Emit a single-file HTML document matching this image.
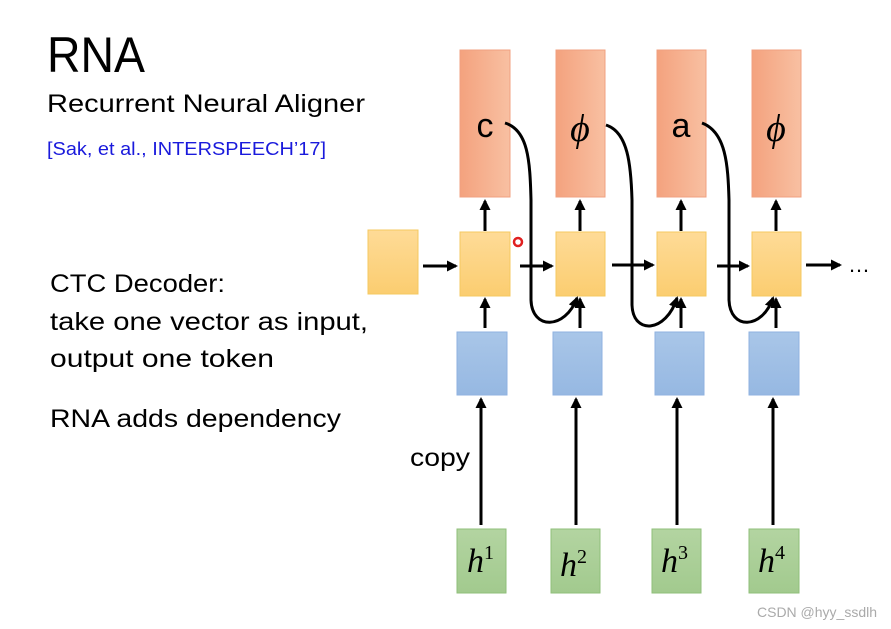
<!DOCTYPE html>
<html><head><meta charset="utf-8"><style>html,body{margin:0;padding:0;background:#fff}svg{display:block}</style></head>
<body>
<svg width="891" height="629" viewBox="0 0 891 629" xmlns="http://www.w3.org/2000/svg" font-family="Liberation Sans, sans-serif">
<defs>
<linearGradient id="or" x1="0" x2="1" y1="0" y2="0"><stop offset="0" stop-color="#f4a27e"/><stop offset="1" stop-color="#f8c0a2"/></linearGradient>
<linearGradient id="ye" x1="0" x2="0" y1="0" y2="1"><stop offset="0" stop-color="#fedb97"/><stop offset="1" stop-color="#fbcd70"/></linearGradient>
<linearGradient id="bl" x1="0" x2="0" y1="0" y2="1"><stop offset="0" stop-color="#a9c6e8"/><stop offset="1" stop-color="#96b8e2"/></linearGradient>
<linearGradient id="gr" x1="0" x2="0" y1="0" y2="1"><stop offset="0" stop-color="#b3d4a1"/><stop offset="1" stop-color="#a2ca8e"/></linearGradient>
<marker id="ah" markerWidth="11" markerHeight="11" refX="9" refY="5.5" orient="auto" markerUnits="userSpaceOnUse"><path d="M0,0 L11,5.5 L0,11 z" fill="#000"/></marker>
</defs>
<text x="47" y="72" font-size="50" textLength="98" lengthAdjust="spacingAndGlyphs">RNA</text>
<text x="47" y="112" font-size="25" textLength="318" lengthAdjust="spacingAndGlyphs">Recurrent Neural Aligner</text>
<text x="47" y="155" font-size="18" fill="#1a1adc" textLength="279" lengthAdjust="spacingAndGlyphs">[Sak, et al., INTERSPEECH’17]</text>
<text x="50" y="292" font-size="25" textLength="175" lengthAdjust="spacingAndGlyphs">CTC Decoder:</text>
<text x="50" y="330" font-size="25" textLength="318" lengthAdjust="spacingAndGlyphs">take one vector as input,</text>
<text x="50" y="367" font-size="25" textLength="224" lengthAdjust="spacingAndGlyphs">output one token</text>
<text x="50" y="427" font-size="25" textLength="291" lengthAdjust="spacingAndGlyphs">RNA adds dependency</text>
<text x="410" y="466" font-size="25" textLength="60" lengthAdjust="spacingAndGlyphs">copy</text>
<g stroke-width="1">
<rect x="460" y="50" width="50" height="147" fill="url(#or)" stroke="#f0a080"/>
<rect x="556" y="50" width="49" height="147" fill="url(#or)" stroke="#f0a080"/>
<rect x="657" y="50" width="49" height="147" fill="url(#or)" stroke="#f0a080"/>
<rect x="752" y="50" width="49" height="147" fill="url(#or)" stroke="#f0a080"/>
<rect x="368" y="230" width="50" height="64" fill="url(#ye)" stroke="#f5c860"/>
<rect x="460" y="232" width="50" height="64" fill="url(#ye)" stroke="#f5c860"/>
<rect x="556" y="232" width="49" height="64" fill="url(#ye)" stroke="#f5c860"/>
<rect x="657" y="232" width="49" height="64" fill="url(#ye)" stroke="#f5c860"/>
<rect x="752" y="232" width="49" height="64" fill="url(#ye)" stroke="#f5c860"/>
<rect x="457" y="332" width="50" height="63" fill="url(#bl)" stroke="#8fb2e0"/>
<rect x="553" y="332" width="49" height="63" fill="url(#bl)" stroke="#8fb2e0"/>
<rect x="655" y="332" width="49" height="63" fill="url(#bl)" stroke="#8fb2e0"/>
<rect x="749" y="332" width="50" height="63" fill="url(#bl)" stroke="#8fb2e0"/>
<rect x="457" y="529" width="49" height="64" fill="url(#gr)" stroke="#8fbf7a"/>
<rect x="551" y="529" width="49" height="64" fill="url(#gr)" stroke="#8fbf7a"/>
<rect x="652" y="529" width="49" height="64" fill="url(#gr)" stroke="#8fbf7a"/>
<rect x="749" y="529" width="50" height="64" fill="url(#gr)" stroke="#8fbf7a"/>
</g>
<g font-size="34" text-anchor="middle">
<text x="485" y="137">c</text>
<text x="580" y="141" font-family="Liberation Serif, serif" font-style="italic" font-size="38">ϕ</text>
<text x="681" y="137">a</text>
<text x="776" y="141" font-family="Liberation Serif, serif" font-style="italic" font-size="38">ϕ</text>
</g>
<g font-family="Liberation Serif, serif" font-style="italic" font-size="34">
<text x="467" y="572">h<tspan font-size="20" font-style="normal" dy="-13">1</tspan></text>
<text x="560" y="576">h<tspan font-size="20" font-style="normal" dy="-13">2</tspan></text>
<text x="661" y="572">h<tspan font-size="20" font-style="normal" dy="-13">3</tspan></text>
<text x="758" y="572">h<tspan font-size="20" font-style="normal" dy="-13">4</tspan></text>
</g>
<g stroke="#000" stroke-width="3" fill="none" marker-end="url(#ah)">
<line x1="481" y1="525" x2="481" y2="399"/><line x1="576" y1="525" x2="576" y2="399"/>
<line x1="677" y1="525" x2="677" y2="399"/><line x1="773" y1="525" x2="773" y2="399"/>
<line x1="485" y1="328" x2="485" y2="299"/><line x1="580" y1="328" x2="580" y2="299"/>
<line x1="681" y1="328" x2="681" y2="299"/><line x1="776" y1="328" x2="776" y2="299"/>
<line x1="485" y1="231" x2="485" y2="201"/><line x1="580" y1="231" x2="580" y2="201"/>
<line x1="681" y1="231" x2="681" y2="201"/><line x1="776" y1="231" x2="776" y2="201"/>
<line x1="423" y1="266" x2="456" y2="266"/><line x1="520" y1="266" x2="552" y2="266"/>
<line x1="612" y1="265" x2="653" y2="265"/><line x1="717" y1="266" x2="748" y2="266"/>
<line x1="806" y1="265" x2="840" y2="265"/>
<path d="M505,123 C528,130 530,160 531,200 L531,300 C532,330 565,330 577,298"/>
<path d="M606,125 C628,132 631,165 632,200 L632,305 C633,335 666,333 677,298"/>
<path d="M702,123 C726,132 728,165 729,200 L729,300 C730,330 762,330 773,298"/>
</g>
<circle cx="518" cy="242" r="4" fill="none" stroke="#e02020" stroke-width="2.5"/>
<text x="848" y="272" font-size="22">…</text>
<text x="757" y="617" font-size="14" fill="#aaa">CSDN @hyy_ssdlh</text>
</svg>
</body></html>
